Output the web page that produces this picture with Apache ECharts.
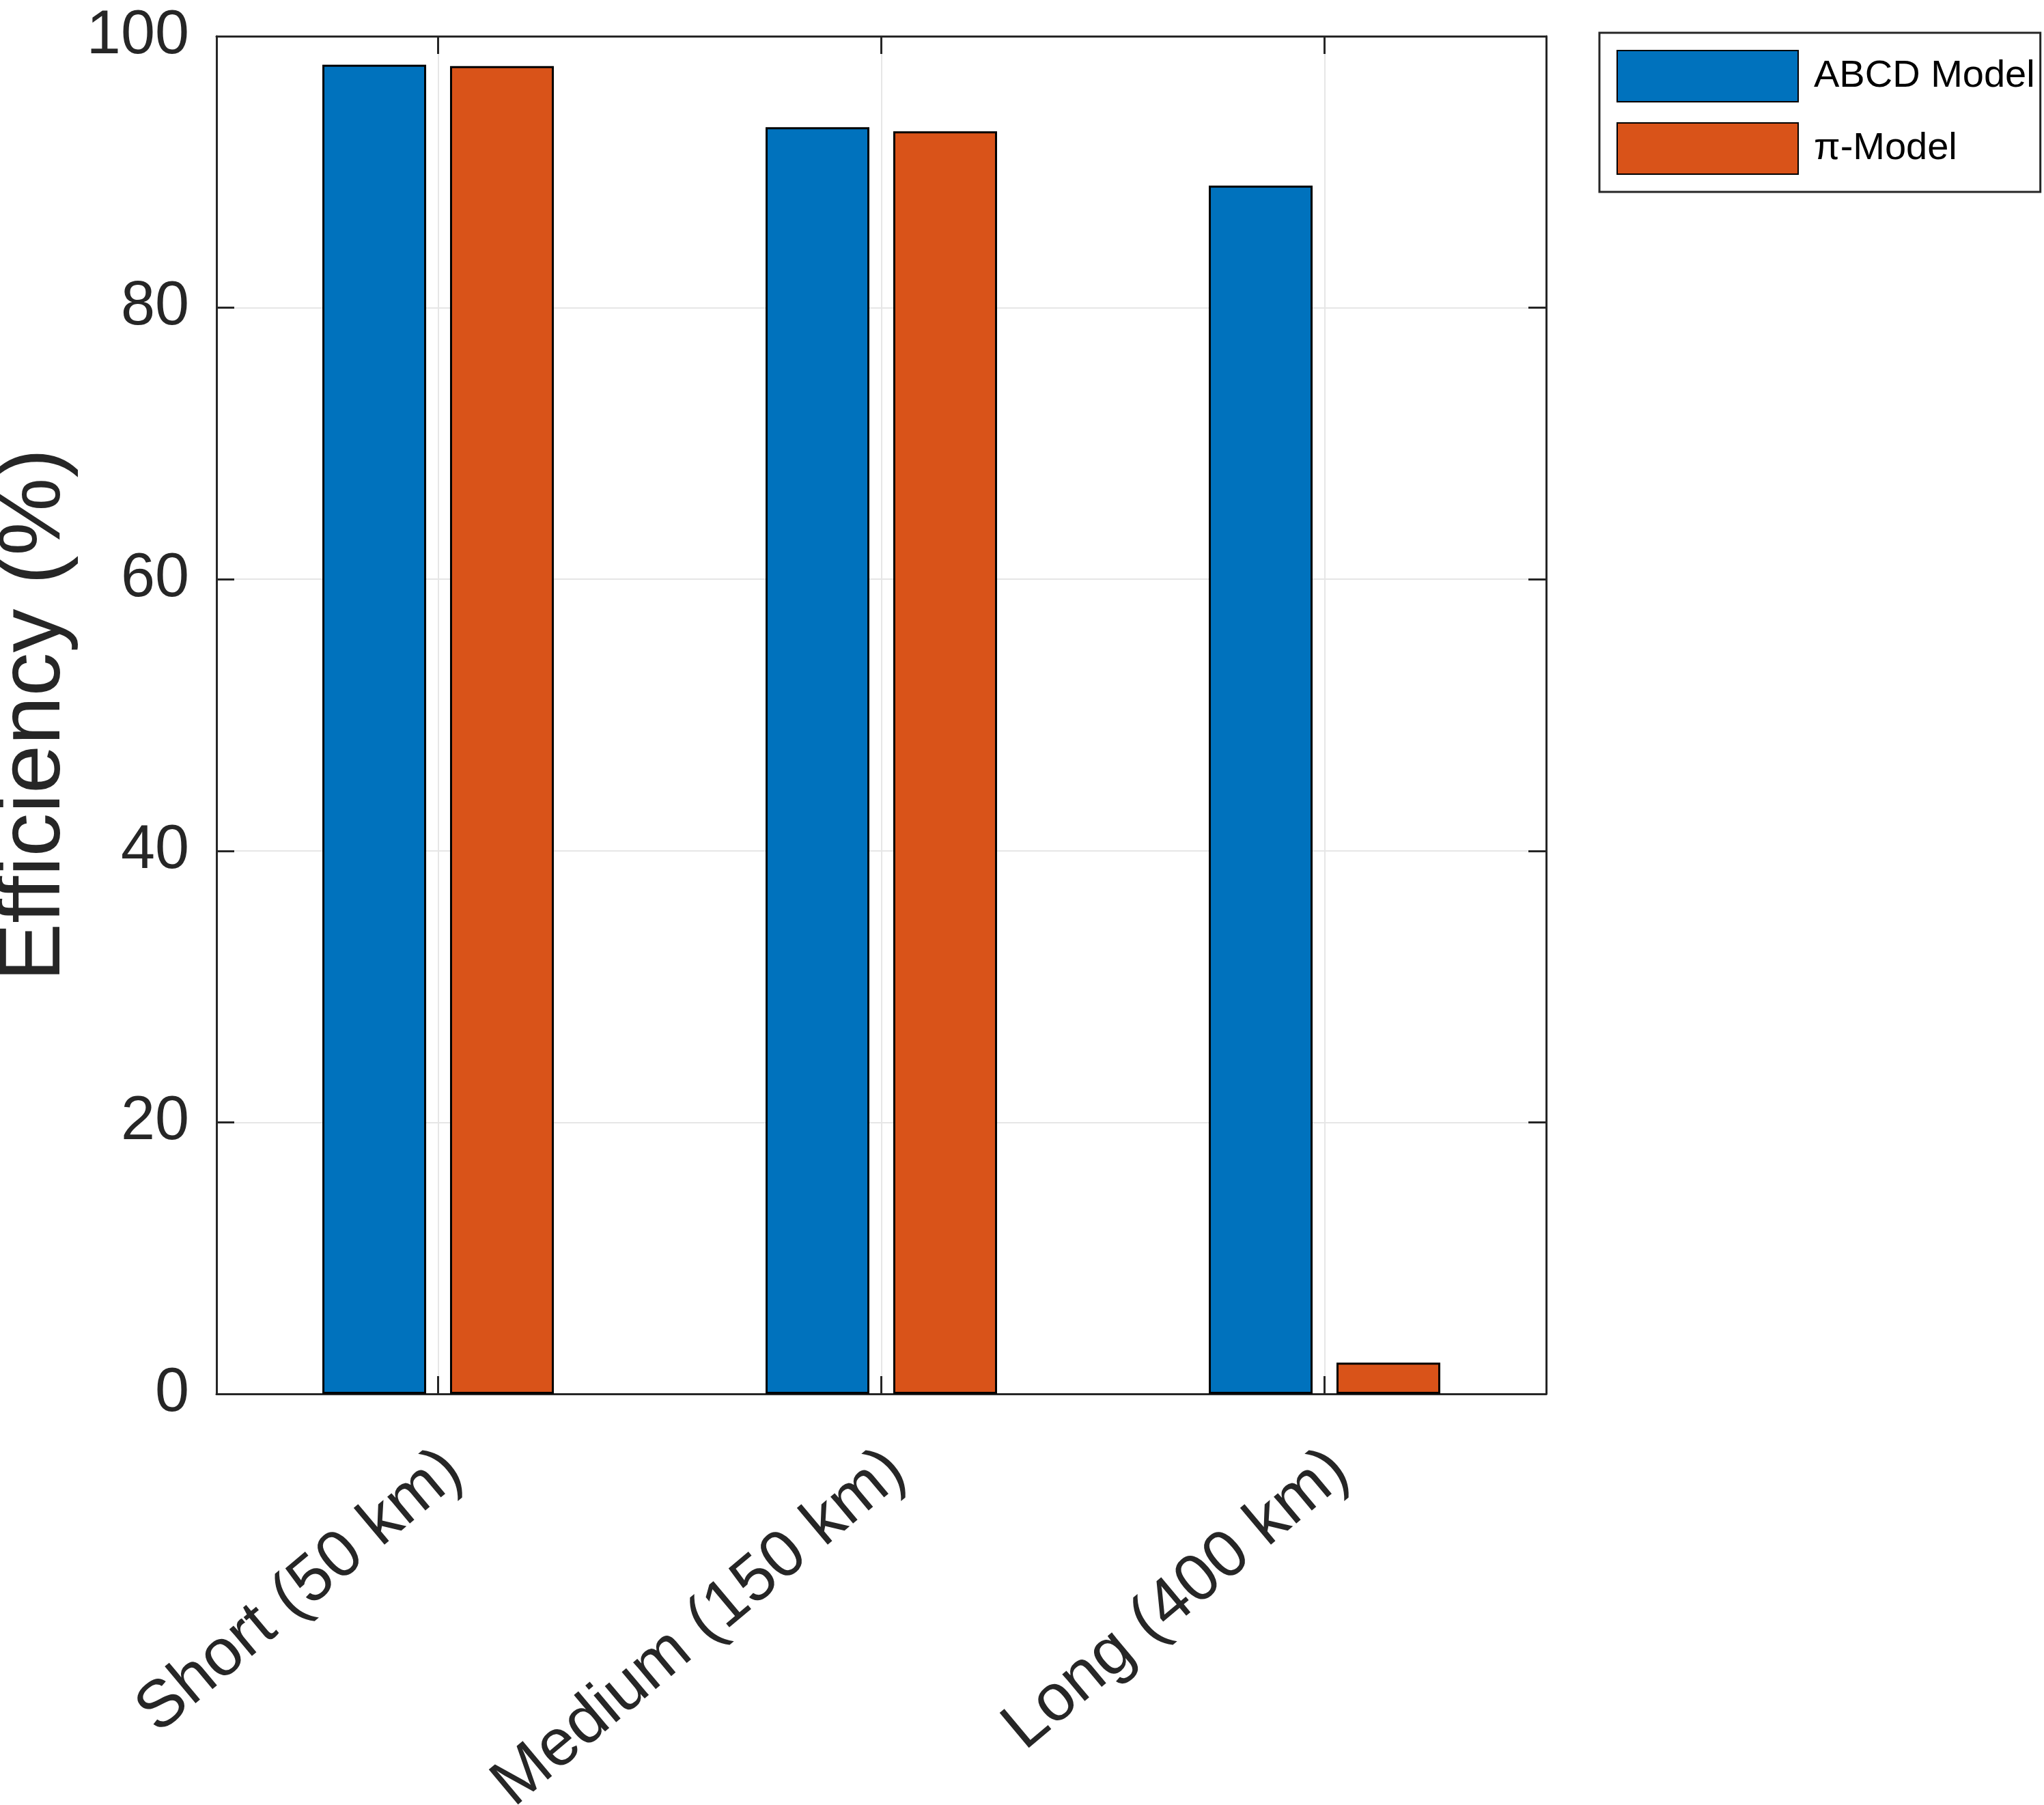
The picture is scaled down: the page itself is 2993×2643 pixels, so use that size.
<!DOCTYPE html>
<html>
<head>
<meta charset="utf-8">
<script src="https://cdn.jsdelivr.net/npm/echarts@6/dist/echarts.min.js"></script>
<style>
  html, body { margin: 0; padding: 0; background: #fff; }
  #main { width: 2993px; height: 2643px; }
</style>
</head>
<body>
<div id="main"></div>
<script>
// data
var categories = ['Short (50 km)', 'Medium (150 km)', 'Long (400 km)'];
var abcdModel = [97.9, 93.3, 89.0];
var piModel = [97.8, 93.0, 2.3];
var seriesNames = ['ABCD Model', 'π-Model'];

var font = "'Liberation Sans', Arial, Helvetica, sans-serif";
var axisColor = '#262626';

var myChart = echarts.init(document.getElementById('main'));

function boxAxisLine() {
  return { show: true, onZero: false, lineStyle: { color: axisColor, width: 3 } };
}
function boxTick(align) {
  return { show: true, inside: true, length: 26, alignWithLabel: align, lineStyle: { color: axisColor, width: 3 } };
}

myChart.setOption({
  animation: false,
  backgroundColor: '#fff',
  grid: {
    left: 317, right: 729, top: 53, bottom: 602,
    outerBoundsMode: 'none'
  },
  legend: {
    orient: 'vertical',
    left: 2342, top: 48,
    data: seriesNames,
    icon: 'rect',
    itemWidth: 265, itemHeight: 75,
    itemGap: 29,
    padding: [25, 8, 25, 25],
    borderColor: axisColor,
    borderWidth: 3,
    textStyle: { fontFamily: font, fontSize: 56, color: '#000', padding: [0, 0, 0, 18] }
  },
  xAxis: [{
    type: 'category',
    data: categories,
    position: 'bottom',
    axisLine: boxAxisLine(),
    axisTick: boxTick(true),
    axisLabel: { rotate: 40, margin: 120, fontSize: 97, fontFamily: font, color: axisColor, padding: [0, -30, 0, 0] },
    splitLine: { show: true, alignWithLabel: true, lineStyle: { color: '#e6e6e6', width: 2 } }
  }, {
    type: 'category',
    data: categories,
    position: 'top',
    axisLine: boxAxisLine(),
    axisTick: boxTick(true),
    axisLabel: { show: false },
    splitLine: { show: false }
  }],
  yAxis: [{
    type: 'value',
    min: 0, max: 100, interval: 20,
    name: 'Efficiency (%)',
    nameLocation: 'middle',
    nameGap: 180,
    nameTextStyle: { fontFamily: font, fontSize: 128, color: axisColor },
    axisLine: boxAxisLine(),
    axisTick: boxTick(false),
    axisLabel: { margin: 40, fontSize: 90, fontFamily: font, color: axisColor },
    splitLine: { show: true, lineStyle: { color: '#e6e6e6', width: 2 } }
  }, {
    type: 'value',
    position: 'right',
    min: 0, max: 100, interval: 20,
    axisLine: boxAxisLine(),
    axisTick: boxTick(false),
    axisLabel: { show: false },
    splitLine: { show: false }
  }],
  series: [{
    name: seriesNames[0],
    type: 'bar',
    data: abcdModel,
    barWidth: 152,
    barGap: '23%',
    itemStyle: { color: '#0072BD', borderColor: '#000', borderWidth: 3 }
  }, {
    name: seriesNames[1],
    type: 'bar',
    data: piModel,
    barWidth: 152,
    barGap: '23%',
    itemStyle: { color: '#D95319', borderColor: '#000', borderWidth: 3 }
  }]
});
</script>
</body>
</html>
